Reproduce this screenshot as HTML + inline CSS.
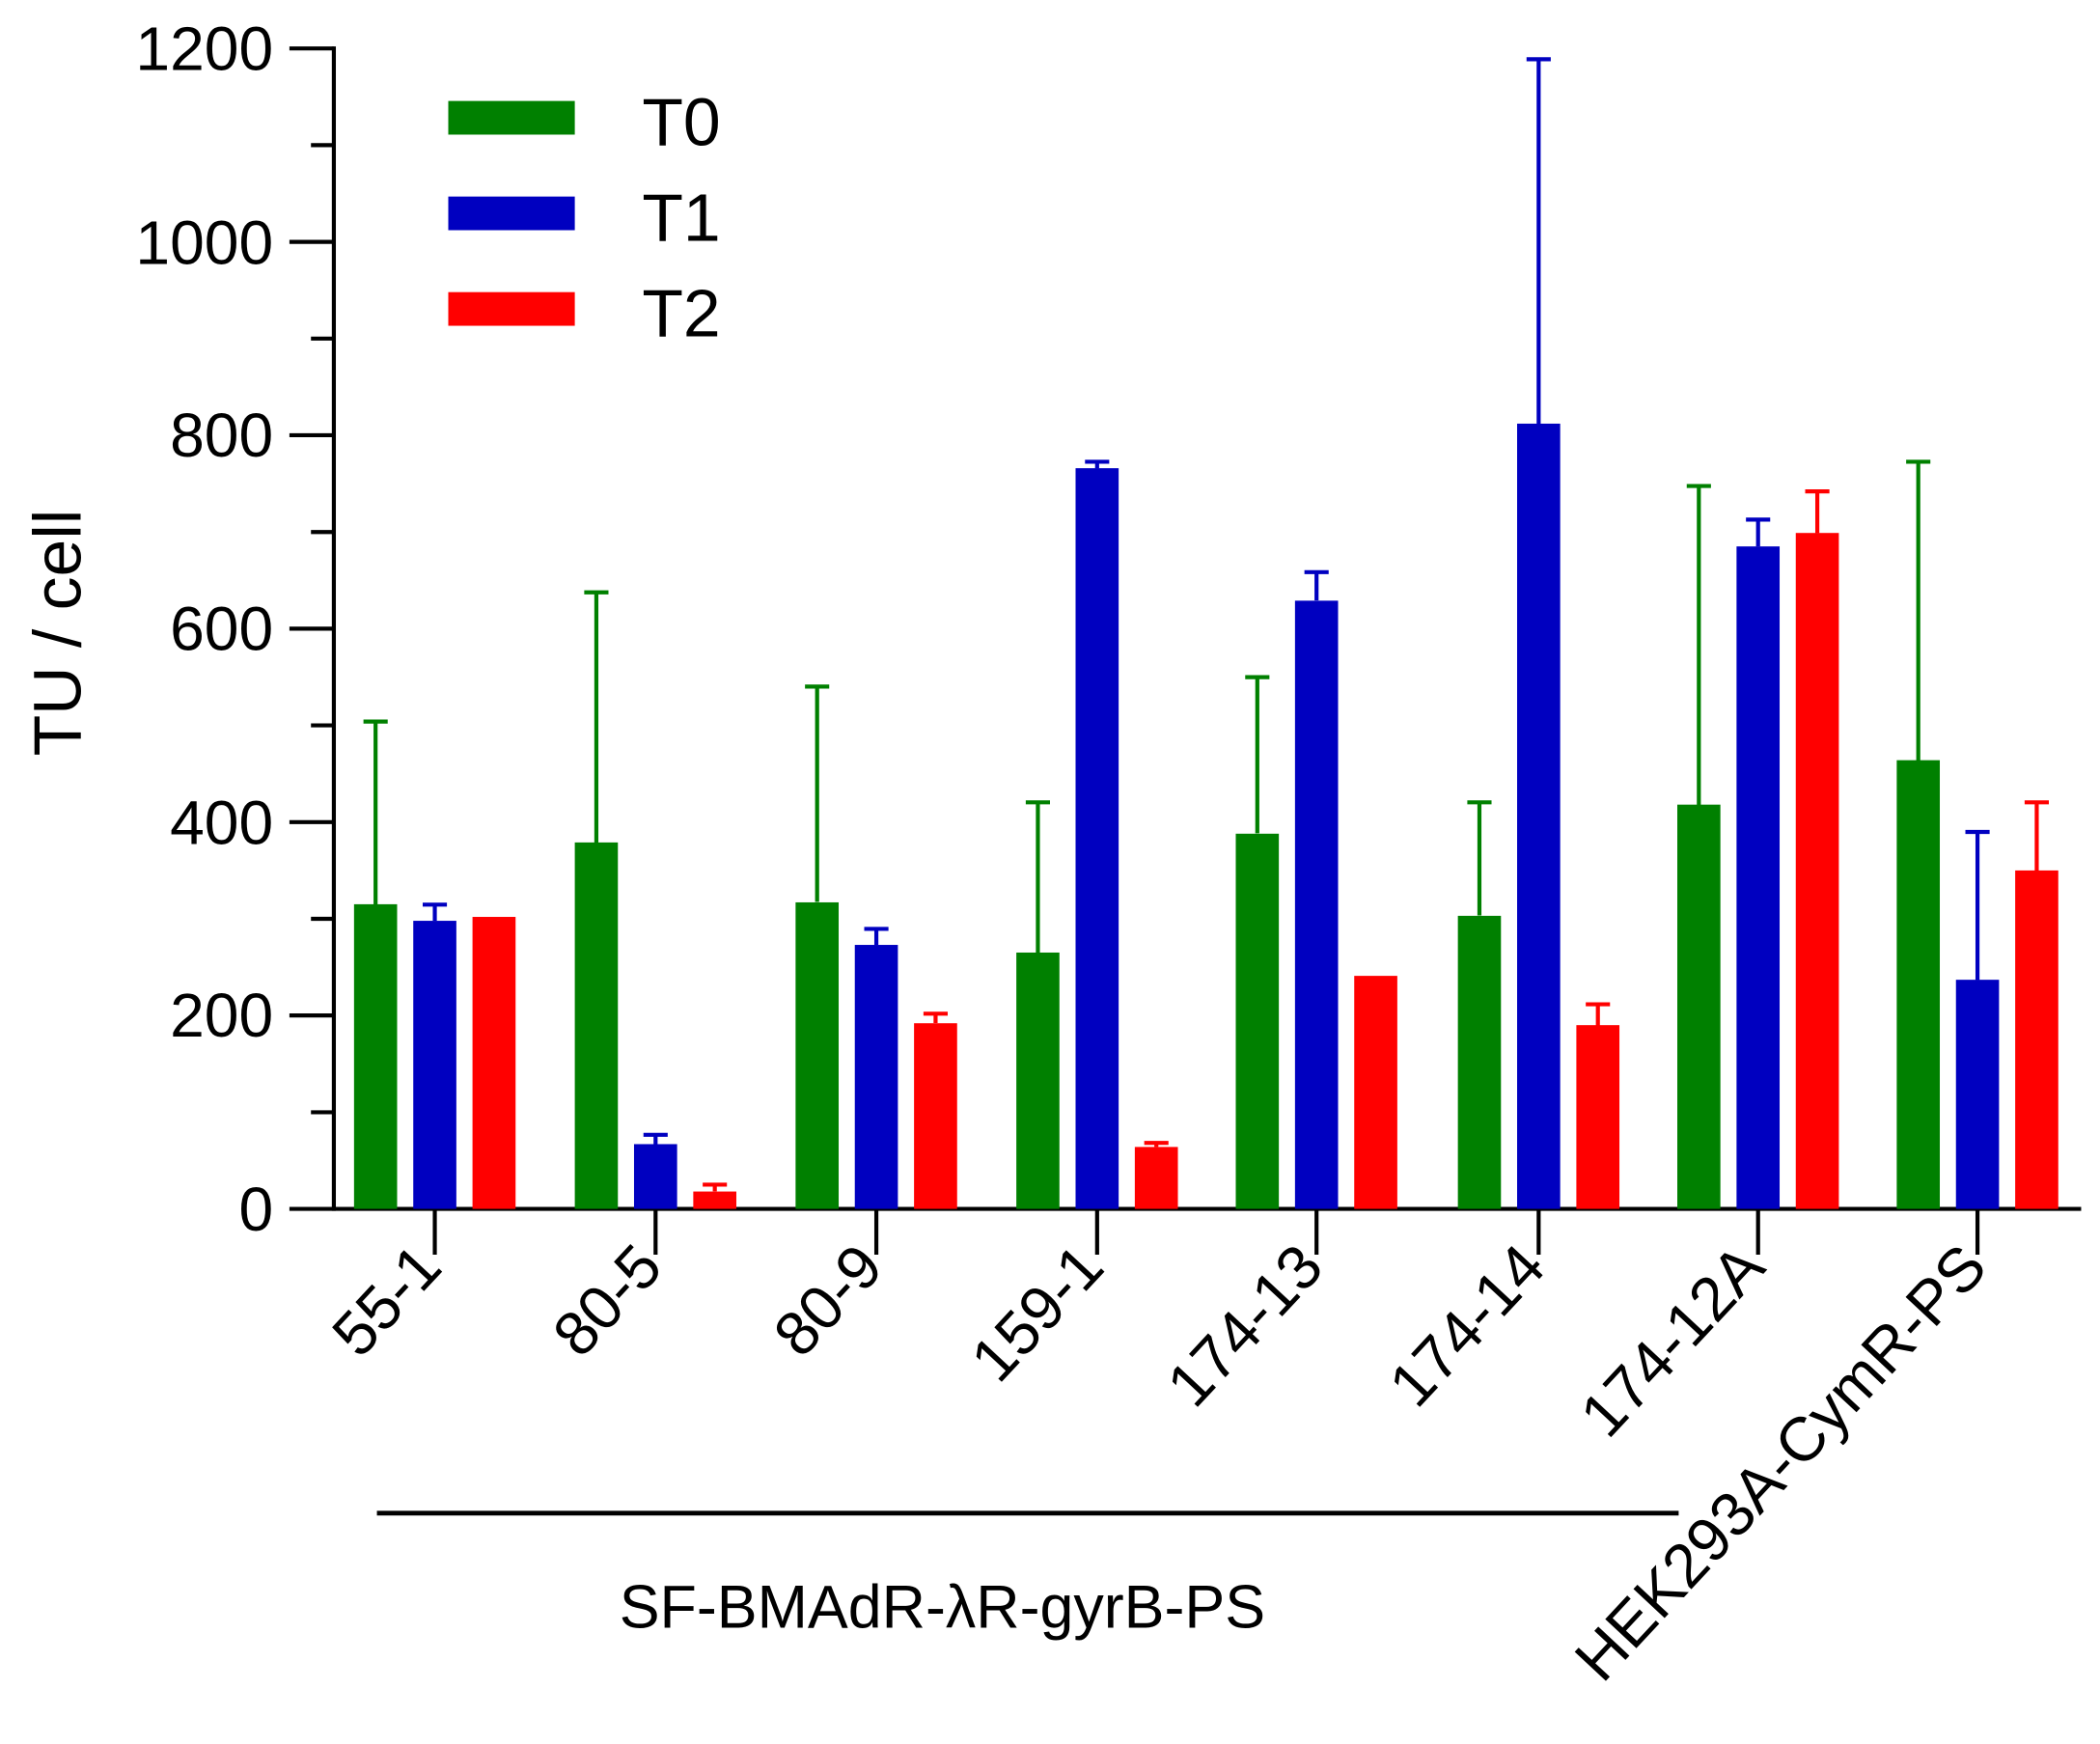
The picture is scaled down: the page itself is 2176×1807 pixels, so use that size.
<!DOCTYPE html>
<html><head><meta charset="utf-8"><style>html,body{margin:0;padding:0;background:#fff}svg{display:block}</style></head>
<body>
<svg width="2176" height="1807" viewBox="0 0 1560 1295.5" preserveAspectRatio="none" xmlns="http://www.w3.org/2000/svg" font-family="Liberation Sans, Arial, sans-serif">
<g stroke="#000" stroke-width="3" fill="none">
<line x1="248" y1="34.5" x2="248" y2="899.5"/>
<line x1="215" y1="898" x2="1546" y2="898"/>
<line x1="215" y1="36" x2="248" y2="36"/>
<line x1="215" y1="179.7" x2="248" y2="179.7"/>
<line x1="215" y1="323.3" x2="248" y2="323.3"/>
<line x1="215" y1="467" x2="248" y2="467"/>
<line x1="215" y1="610.7" x2="248" y2="610.7"/>
<line x1="215" y1="754.3" x2="248" y2="754.3"/>
<line x1="231" y1="107.8" x2="248" y2="107.8"/>
<line x1="231" y1="251.5" x2="248" y2="251.5"/>
<line x1="231" y1="395.2" x2="248" y2="395.2"/>
<line x1="231" y1="538.8" x2="248" y2="538.8"/>
<line x1="231" y1="682.5" x2="248" y2="682.5"/>
<line x1="231" y1="826.2" x2="248" y2="826.2"/>
<line x1="323" y1="898" x2="323" y2="932"/>
<line x1="487" y1="898" x2="487" y2="932"/>
<line x1="651" y1="898" x2="651" y2="932"/>
<line x1="815" y1="898" x2="815" y2="932"/>
<line x1="978" y1="898" x2="978" y2="932"/>
<line x1="1143" y1="898" x2="1143" y2="932"/>
<line x1="1306" y1="898" x2="1306" y2="932"/>
<line x1="1469" y1="898" x2="1469" y2="932"/>
<line x1="280" y1="1124" x2="1247" y2="1124" stroke-width="3.5"/>
</g>
<g font-size="46" text-anchor="end" fill="#000">
<text x="203" y="52">1200</text>
<text x="203" y="196">1000</text>
<text x="203" y="339">800</text>
<text x="203" y="483">600</text>
<text x="203" y="627">400</text>
<text x="203" y="770">200</text>
<text x="203" y="914">0</text>
</g>
<text transform="translate(60,470) rotate(-90)" font-size="50" text-anchor="middle">TU / cell</text>
<rect x="333" y="75" width="94" height="25" fill="#008000"/>
<rect x="333" y="146" width="94" height="25" fill="#0000c0"/>
<rect x="333" y="217" width="94" height="25" fill="#ff0000"/>
<g font-size="50"><text x="477" y="108">T0</text><text x="477" y="179">T1</text><text x="477" y="250">T2</text></g>

<!-- error bars -->
<g stroke-width="3">
<g stroke="#008000">
<path d="M279 672V536M270 536H288"/>
<path d="M443 626V440M434 440H452"/>
<path d="M607 670V510M598 510H616"/>
<path d="M771 708V596M762 596H780"/>
<path d="M934 619V503M925 503H943"/>
<path d="M1099 680V596M1090 596H1108"/>
<path d="M1262 598V361M1253 361H1271"/>
<path d="M1425 565V343M1416 343H1434"/>
</g>
<g stroke="#0000c0">
<path d="M323 684V672M314 672H332"/>
<path d="M487 850V843M478 843H496"/>
<path d="M651 702V690M642 690H660"/>
<path d="M815 348V343M806 343H824"/>
<path d="M978 446V425M969 425H987"/>
<path d="M1143 315V44M1134 44H1152"/>
<path d="M1306 406V386M1297 386H1315"/>
<path d="M1469 728V618M1460 618H1478"/>
</g>
<g stroke="#ff0000">
<path d="M531 885V880M522 880H540"/>
<path d="M695 760V753M686 753H704"/>
<path d="M859 852V849M850 849H868"/>
<path d="M1187 762V746M1178 746H1196"/>
<path d="M1350 396V365M1341 365H1359"/>
<path d="M1513 647V596M1504 596H1522"/>
</g>
</g>
<!-- bars -->
<g fill="#008000">
<rect x="263" y="671.7" width="32" height="226.3"/>
<rect x="427" y="625.8" width="32" height="272.2"/>
<rect x="591" y="670.3" width="32" height="227.7"/>
<rect x="755" y="707.6" width="32" height="190.4"/>
<rect x="918" y="619.3" width="32" height="278.7"/>
<rect x="1083" y="680.3" width="32" height="217.7"/>
<rect x="1246" y="597.7" width="32" height="300.3"/>
<rect x="1409" y="564.7" width="32" height="333.3"/>
</g>
<g fill="#0000c0">
<rect x="307" y="684" width="32" height="214"/>
<rect x="471" y="849.9" width="32" height="48.1"/>
<rect x="635" y="701.9" width="32" height="196.1"/>
<rect x="799" y="347.8" width="32" height="550.2"/>
<rect x="962" y="446.2" width="32" height="451.8"/>
<rect x="1127" y="314.7" width="32" height="583.3"/>
<rect x="1290" y="405.9" width="32" height="492.1"/>
<rect x="1453" y="727.8" width="32" height="170.2"/>
</g>
<g fill="#ff0000">
<rect x="351" y="681.1" width="32" height="216.9"/>
<rect x="515" y="885.1" width="32" height="12.9"/>
<rect x="679" y="760.1" width="32" height="137.9"/>
<rect x="843" y="852" width="32" height="46"/>
<rect x="1006" y="724.9" width="32" height="173.1"/>
<rect x="1171" y="761.5" width="32" height="136.5"/>
<rect x="1334" y="395.9" width="32" height="502.1"/>
<rect x="1497" y="646.6" width="32" height="251.4"/>
</g>

<g font-size="46" text-anchor="end">
<text transform="translate(330,943) rotate(-47)">55-1</text>
<text transform="translate(494,943) rotate(-47)">80-5</text>
<text transform="translate(658,943) rotate(-47)">80-9</text>
<text transform="translate(822,943) rotate(-47)">159-1</text>
<text transform="translate(985,943) rotate(-47)">174-13</text>
<text transform="translate(1150,943) rotate(-47)">174-14</text>
<text transform="translate(1313,943) rotate(-47)">174-12A</text>
<text transform="translate(1478,943) rotate(-47)">HEK293A-CymR-PS</text>
</g>
<text x="700" y="1209" font-size="45" text-anchor="middle">SF-BMAdR-λR-gyrB-PS</text>
</svg>
</body></html>
